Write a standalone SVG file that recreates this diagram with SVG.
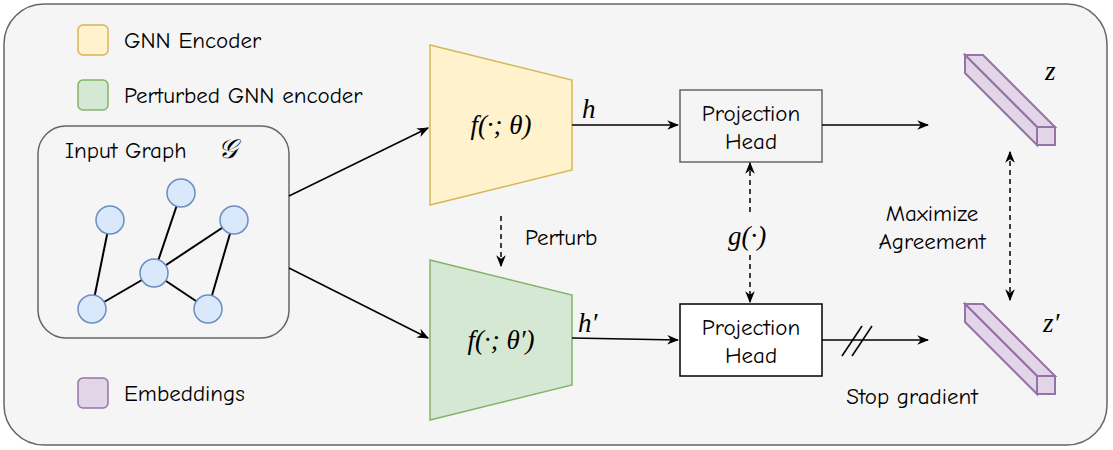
<svg xmlns="http://www.w3.org/2000/svg" width="1113" height="450" viewBox="0 0 1113 450">
<defs>
<marker id="ar" viewBox="0 0 10 10" refX="9" refY="5" markerWidth="8" markerHeight="8" orient="auto-start-reverse"><path d="M0,1 L10,5 L0,9 L3,5 Z" fill="#000"/></marker>
<style>
.t{font-family:"Comic Neue","Liberation Sans",sans-serif;font-size:23px;fill:#000}
.m{font-family:"Liberation Serif",serif;font-style:italic;font-size:27px;fill:#000}
.n{fill:#dae8fc;stroke:#6c8ebf;stroke-width:1.5}
.e{stroke:#000;stroke-width:2}
.c{stroke:#000;stroke-width:1.5;fill:none;marker-end:url(#ar)}
.d{stroke-dasharray:5,4}
.p{fill:#e1d5e7;stroke:#9673a6;stroke-width:2}
</style>
</defs>
<rect x="4" y="4" width="1103" height="441" rx="40" fill="#f5f5f5" stroke="#666" stroke-width="1.5"/>
<g id="legend">
<rect x="78" y="25" width="30" height="30" rx="5" fill="#fff2cc" stroke="#d6b656" stroke-width="1.5"/><text class="t" x="124" y="48">GNN Encoder</text>
<rect x="78" y="80" width="30" height="30" rx="5" fill="#d5e8d4" stroke="#82b366" stroke-width="1.5"/><text class="t" x="124" y="103">Perturbed GNN encoder</text>
<rect x="78" y="378" width="30" height="30" rx="5" fill="#e1d5e7" stroke="#9673a6" stroke-width="1.5"/><text class="t" x="124" y="401">Embeddings</text>
</g>
<g id="input-graph">
<rect x="38" y="126" width="251" height="212" rx="28" fill="#f5f5f5" stroke="#666" stroke-width="1.5"/>
<text class="t" x="65" y="158">Input Graph</text><text class="m" x="218" y="158">𝒢</text>
<line class="e" x1="110" y1="220" x2="92" y2="309"/><line class="e" x1="181" y1="193" x2="154" y2="273"/>
<line class="e" x1="234" y1="220" x2="154" y2="273"/><line class="e" x1="234" y1="220" x2="208" y2="309"/>
<line class="e" x1="154" y1="273" x2="92" y2="309"/><line class="e" x1="154" y1="273" x2="208" y2="309"/>
<circle class="n" cx="110" cy="220" r="14"/><circle class="n" cx="181" cy="193" r="14"/><circle class="n" cx="234" cy="220" r="14"/>
<circle class="n" cx="154" cy="273" r="14"/><circle class="n" cx="92" cy="309" r="14"/><circle class="n" cx="208" cy="309" r="14"/>
</g>
<g id="encoder">
<polygon points="430,45 572,80 572,170 430,205" fill="#fff2cc" stroke="#d6b656" stroke-width="1.5"/>
<text class="m" x="501" y="134" text-anchor="middle">f(·; θ)</text>
</g>
<g id="perturbed-encoder">
<polygon points="430,260 572,295 572,385 430,420" fill="#d5e8d4" stroke="#82b366" stroke-width="1.5"/>
<text class="m" x="501" y="349" text-anchor="middle">f(·; θ′)</text>
</g>
<g id="head1"><rect x="680" y="90" width="142" height="72" fill="#f5f5f5" stroke="#666" stroke-width="1.5"/>
<text class="t" x="751" y="121" text-anchor="middle">Projection</text><text class="t" x="751" y="149" text-anchor="middle">Head</text></g>
<g id="head2"><rect x="680" y="304" width="142" height="72" fill="#fff" stroke="#000" stroke-width="1.5"/>
<text class="t" x="751" y="335" text-anchor="middle">Projection</text><text class="t" x="751" y="363" text-anchor="middle">Head</text></g>
<g id="z1">
<polygon class="p" points="965,55 983,55 1055,127 1037,127"/>
<polygon class="p" points="965,55 1037,127 1037,145 965,73" fill="#d4c3dc"/>
<rect class="p" x="1037" y="127" width="18" height="18"/>
<text class="m" x="1045" y="80">z</text>
</g>
<g id="z2">
<polygon class="p" points="965,304 983,304 1055,376 1037,376"/>
<polygon class="p" points="965,304 1037,376 1037,394 965,322" fill="#d4c3dc"/>
<rect class="p" x="1037" y="376" width="18" height="18"/>
<text class="m" x="1043" y="332">z′</text>
</g>
<g id="connectors">
<line class="c" x1="289" y1="196" x2="428" y2="128"/>
<line class="c" x1="289" y1="268" x2="428" y2="338"/>
<line class="c" x1="572" y1="125" x2="678" y2="125"/>
<line class="c" x1="572" y1="338" x2="678" y2="340"/>
<line class="c" x1="822" y1="125" x2="928" y2="125"/>
<line class="c" x1="822" y1="340" x2="928" y2="340"/>
<line class="e" x1="842" y1="356" x2="862" y2="326" style="stroke-width:1.5"/>
<line class="e" x1="852" y1="356" x2="872" y2="326" style="stroke-width:1.5"/>
<line class="c d" x1="501" y1="216" x2="501" y2="266"/>
<line class="c d" x1="750" y1="212" x2="750" y2="163"/>
<line class="c d" x1="750" y1="255" x2="750" y2="302"/>
<line class="c d" x1="1010" y1="152" x2="1010" y2="300" style="marker-start:url(#ar)"/>
<text class="t" x="525" y="245">Perturb</text>
<text class="m" x="728" y="245">g(·)</text>
<text class="t" x="932" y="221" text-anchor="middle">Maximize</text>
<text class="t" x="932" y="249" text-anchor="middle">Agreement</text>
<text class="t" x="912" y="404" text-anchor="middle">Stop gradient</text>
<text class="m" x="582" y="118">h</text>
<text class="m" x="578" y="332">h′</text>
</g>
</svg>
